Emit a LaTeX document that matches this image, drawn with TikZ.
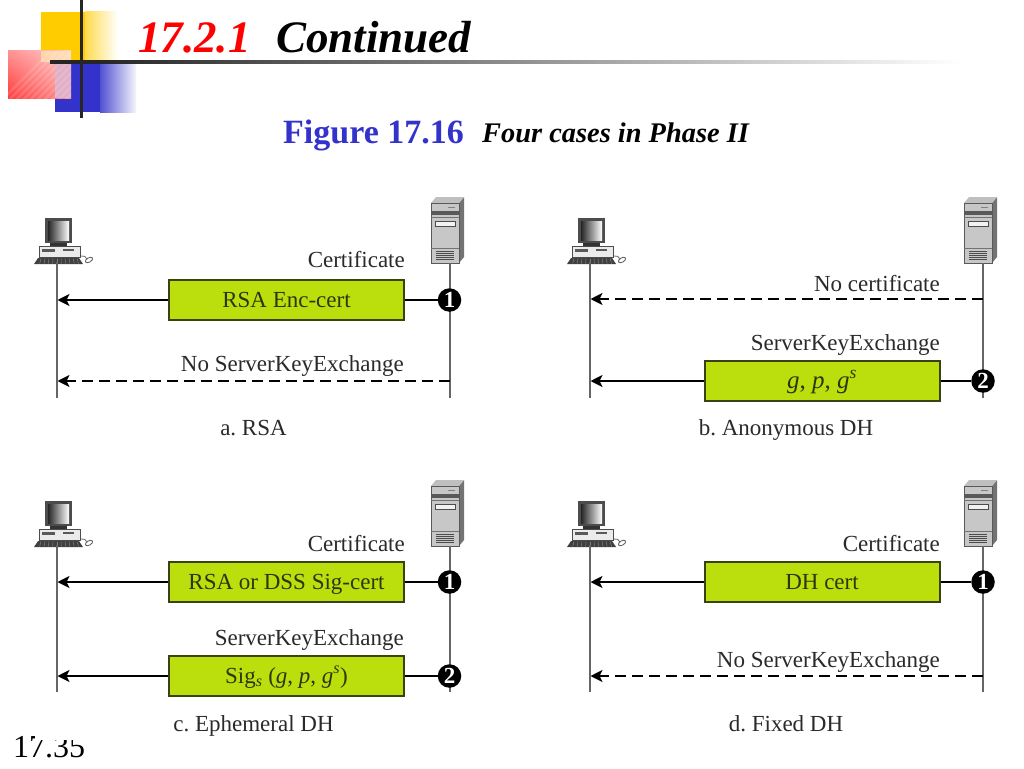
\documentclass[tikz,border=0pt]{standalone}
\usepackage{fontspec}
\setmainfont{Liberation Serif}
\usetikzlibrary{arrows.meta,shadings}
\definecolor{boxgreen}{HTML}{BBDF0C}
\definecolor{boxedge}{HTML}{3A4212}
\definecolor{inktext}{HTML}{2A2A2A}
\definecolor{titleblue}{HTML}{3333CC}
\definecolor{logoyellow}{HTML}{FFCC00}
\definecolor{logored}{HTML}{FF3B3B}
\definecolor{logoblue}{HTML}{3333CC}
\tikzset{
  msgbox/.style={draw=boxedge,line width=2pt,fill=boxgreen,minimum width=235pt,minimum height=40.5pt,inner sep=0pt,font=\fontsize{23}{26}\selectfont,text=boxedge!80!black,text height=14pt,text depth=0pt},
  badge/.style={circle,fill=black,minimum size=23.5pt,inner sep=0pt,text=white,font=\bfseries\fontsize{23}{23}\selectfont},
  lifeline/.style={draw=black!60,line width=2pt},
  msg/.style={draw=black,line width=2pt,-{Stealth[length=12pt,width=12pt,inset=3pt]}},
  dmsg/.style={draw=black,line width=2pt,dash pattern=on 11pt off 6pt,-{Stealth[length=12pt,width=12pt,inset=3pt]}},
  link/.style={draw=black,line width=2pt},
  lab/.style={font=\fontsize{23}{26}\selectfont,text=inktext,inner sep=0pt,anchor=base east},
  captext/.style={font=\fontsize{23}{26}\selectfont,text=inktext,inner sep=0pt,anchor=base},
  pc/.pic={
    \fill[black!70] (-12,-44) rectangle (15,-19);
    \shade[left color=black!85,right color=white] (-9,-41) rectangle (12,-22);
    \fill[black!80] (-7,-19) rectangle (10,-16);
    \draw[black!70,fill=black!8,line width=.8pt] (-18,-16) rectangle (23,-5);
    \fill[black!65] (-15,-13) rectangle (-2,-10);
    \fill[black!65] (6,-13) rectangle (17,-11);
    \fill[black!75] (-19,-4) -- (22,-4) -- (26,2) -- (-23,2) -- cycle;
    \foreach \k in {-16,-12,...,20}{\draw[white,opacity=.35,line width=.5pt] (\k,-3.5) -- (\k*1.08,1.5);}
    \draw[black!60,line width=.8pt] (24,-6) .. controls (27,-7) and (29,-5) .. (30,-3);
    \draw[black!60,fill=white,line width=.9pt,rotate around={30:(32,-2)}] (32,-2) ellipse (4 and 2.2);
  },
  srv/.pic={
    \fill[black!55] (14,-60) -- (19,-66) -- (19,-6) -- (14,0) -- cycle;
    \fill[black!25] (-14,-60) -- (-9,-66) -- (19,-66) -- (14,-60) -- cycle;
    \draw[black!65,fill=black!22,line width=.8pt] (-14,-60) rectangle (14,0);
    \fill[black!65] (-14,-52) rectangle (14,-48);
    \draw[black!70,fill=black!5,line width=.8pt] (-10,-42) rectangle (10,-37);
    \draw[black!55,line width=.6pt] (-14,-46) -- (14,-46);
    \draw[black!55,line width=.6pt] (-14,-15) -- (14,-15);
    \foreach \k in {-12,-10,-8,-6,-4}{\draw[black!70,line width=.9pt] (-9,\k) -- (9,\k);}
    \draw[black!50,line width=.6pt] (3,-56) -- (10,-56);
  }
}
\begin{document}
\frenchspacing
\begin{tikzpicture}[x=1pt,y=-1pt]
\useasboundingbox (0,0) rectangle (1024,768);
\fill[white] (0,0) rectangle (1024,768);
% logo
\fill[logoyellow] (41,12) rectangle (85,62);
\shade[left color=logoyellow!70,right color=white] (85,12) rectangle (118,62);
\fill[logoblue] (55,62) rectangle (100,112);
\shade[left color=logoblue!85,right color=logoblue!5] (100,62) rectangle (136,112);
\shade[lower left=logored,upper right=logored!25,lower right=logored!55,upper left=logored!55] (8,51) rectangle (71,98);
\fill[white,opacity=.5] (41,51) rectangle (71,62);
\fill[logoyellow,opacity=.2] (41,51) rectangle (71,62);
\fill[logored!30!white!85!logoblue] (55,62) rectangle (71,98);
\begin{scope}
\clip (8,51) rectangle (71,98);
\foreach \k in {0,7,...,112}{\draw[white,opacity=.14,line width=2.5pt] (\k-10,112) -- (\k+50,52);}
\end{scope}
\fill[black!85] (79.5,0) rectangle (82.5,118);
\fill[black!85] (50,60) rectangle (100,63.5);
\shade[left color=black!85,right color=white] (100,60) rectangle (960,63.5);
% title
\node[inner sep=0pt,anchor=base west,text=red,font=\bfseries\itshape\fontsize{45}{48}\selectfont] (t1) at (138,52.5) {17.2.1};
\node[inner sep=0pt,anchor=base west,text=black,font=\bfseries\itshape\fontsize{45}{48}\selectfont] (t2) at (276,52.5) {Continued};
\node[inner sep=0pt,anchor=base west,text=titleblue,font=\bfseries\fontsize{34}{36}\selectfont] (f1) at (283,143) {Figure 17.16};
\node[inner sep=0pt,anchor=base west,text=black,font=\bfseries\itshape\fontsize{28.4}{30}\selectfont] (f2) at (482,142.5) {Four cases in Phase II};
% page number, its top cut off
\node[inner sep=0pt,anchor=base west,font=\fontsize{32}{34}\selectfont,text=black] (pg) at (13,757) {17.35};
\fill[white] (35,725) rectangle (90,740);

% === panel a
\pic at (57,262) {pc};
\pic at (445,263) {srv};
\coordinate (aC0) at (57,262); \coordinate (aC1) at (57,398);
\coordinate (aS0) at (449.5,263); \coordinate (aS1) at (449.5,398);
\draw[lifeline] (aC0) -- (aC1);
\draw[lifeline] (aS0) -- (aS1);
\node[msgbox] (aB) at (286.5,300) {RSA Enc-cert};
\node[badge] (aN) at (449.5,300) {1};
\coordinate (aT) at (57.5,300);
\draw[msg] (aB.west) -- (aT);
\draw[link] (aB.east) -- (aN);
\node[lab] (aL1) at (405,267.5) {Certificate};
\node[lab] (aL2) at (404,371) {No ServerKeyExchange};
\coordinate (aD0) at (449.5,381); \coordinate (aD1) at (57.5,381);
\draw[dmsg] (aD0) -- (aD1);
\node[captext] (aCap) at (253.5,435) {a. RSA};

% === panel b
\pic at (590,262) {pc};
\pic at (978,263) {srv};
\coordinate (bC0) at (590,262); \coordinate (bC1) at (590,398);
\coordinate (bS0) at (982.5,263); \coordinate (bS1) at (982.5,398);
\draw[lifeline] (bC0) -- (bC1);
\draw[lifeline] (bS0) -- (bS1);
\coordinate (bD0) at (982.5,299); \coordinate (bD1) at (590.5,299);
\draw[dmsg] (bD0) -- (bD1);
\node[lab] (bL1) at (940,291) {No certificate};
\node[lab] (bL2) at (940,350) {ServerKeyExchange};
\node[msgbox,font=\fontsize{25}{28}\selectfont] (bB) at (822,381) {\itshape g\upshape, \itshape p\upshape, \itshape g$^{\mathit{s}}$};
\node[badge] (bN) at (983,381) {2};
\coordinate (bT) at (590.5,381);
\draw[msg] (bB.west) -- (bT);
\draw[link] (bB.east) -- (bN);
\node[captext] (bCap) at (786,435) {b. Anonymous DH};

% === panel c
\pic at (57,545) {pc};
\pic at (445,546) {srv};
\coordinate (cC0) at (57,545); \coordinate (cC1) at (57,692);
\coordinate (cS0) at (449.5,546); \coordinate (cS1) at (449.5,692);
\draw[lifeline] (cC0) -- (cC1);
\draw[lifeline] (cS0) -- (cS1);
\node[msgbox] (cB) at (286.5,582) {RSA or DSS Sig-cert};
\node[badge] (cN) at (449.5,582) {1};
\coordinate (cT) at (57.5,582);
\draw[msg] (cB.west) -- (cT);
\draw[link] (cB.east) -- (cN);
\node[lab] (cL1) at (405,551) {Certificate};
\node[lab] (cL2) at (404,645) {ServerKeyExchange};
\node[msgbox] (cB2) at (286.5,676) {Sig$_{\mathit{s}}$ (\itshape g\upshape, \itshape p\upshape, \itshape g$^{\mathit{s}}$\upshape)};
\node[badge] (cN2) at (449.5,676) {2};
\coordinate (cT2) at (57.5,676);
\draw[msg] (cB2.west) -- (cT2);
\draw[link] (cB2.east) -- (cN2);
\node[captext] (cCap) at (253.5,731) {c. Ephemeral DH};

% === panel d
\pic at (590,545) {pc};
\pic at (978,546) {srv};
\coordinate (dC0) at (590,545); \coordinate (dC1) at (590,692);
\coordinate (dS0) at (982.5,546); \coordinate (dS1) at (982.5,692);
\draw[lifeline] (dC0) -- (dC1);
\draw[lifeline] (dS0) -- (dS1);
\node[msgbox] (dB) at (822,582) {DH cert};
\node[badge] (dN) at (983,582) {1};
\coordinate (dT) at (590.5,582);
\draw[msg] (dB.west) -- (dT);
\draw[link] (dB.east) -- (dN);
\node[lab] (dL1) at (940,551) {Certificate};
\node[lab] (dL2) at (940,667) {No ServerKeyExchange};
\coordinate (dD0) at (982.5,676); \coordinate (dD1) at (590.5,676);
\draw[dmsg] (dD0) -- (dD1);
\node[captext] (dCap) at (786,731) {d. Fixed DH};
\end{tikzpicture}
\end{document}
